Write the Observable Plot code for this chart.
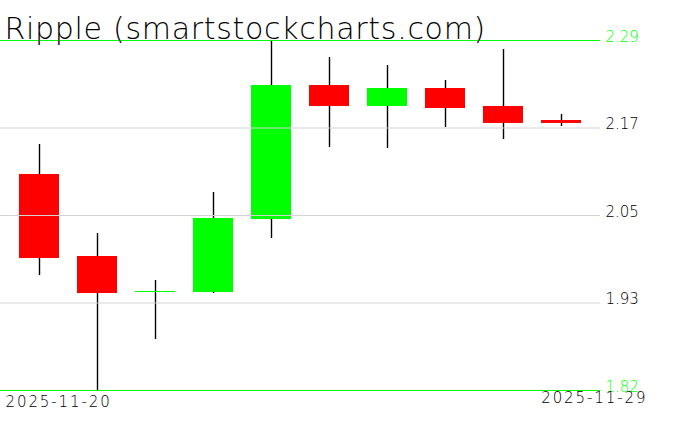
<!DOCTYPE html>
<html>
<head>
<meta charset="utf-8">
<script src="https://cdn.jsdelivr.net/npm/d3@7"></script>
<script src="https://cdn.jsdelivr.net/npm/@observablehq/plot@0.6"></script>
<style>
  html, body { margin: 0; padding: 0; background: #fff; }
  #chart svg { display: block; }
</style>
</head>
<body>
<div id="chart"></div>
<script>
const title = "Ripple (smartstockcharts.com)";
const dates = ["2025-11-20","2025-11-21","2025-11-22","2025-11-23","2025-11-24","2025-11-25","2025-11-26","2025-11-27","2025-11-28","2025-11-29"];
const open  = [2.1106, 1.9984, 1.9500, 1.9491, 2.0490, 2.2324, 2.2037, 2.2283, 2.2037, 2.1845];
const high  = [2.1517, 2.0299, 1.9656, 2.0860, 2.2940, 2.2707, 2.2598, 2.2393, 2.2817, 2.1927];
const low   = [1.9724, 1.8150, 1.8848, 1.9478, 2.0230, 2.1476, 2.1462, 2.1749, 2.1585, 2.1763];
const close = [1.9970, 1.9491, 1.9505, 2.0504, 2.2324, 2.2050, 2.2283, 2.2023, 2.1818, 2.1818];
const yTicks  = [2.294, 2.17425, 2.0545, 1.93475, 1.815];
const yLabels = ["2.29", "2.17", "2.05", "1.93", "1.82"];

const GREEN = "#00ff00", RED = "#ff0000";
const candles = dates.map((d, i) => ({date: d, open: open[i], high: high[i], low: low[i], close: close[i]}));
const ticks = yTicks.map((v, i) => ({v, label: yLabels[i], edge: i === 0 || i === yTicks.length - 1}));
const color = d => d.close >= d.open ? GREEN : RED;

const chart = Plot.plot({
  width: 676,
  height: 431,
  marginTop: 40,
  marginBottom: 41,
  marginLeft: 0,
  marginRight: 76,
  x: {type: "band", domain: dates, range: [10.5, 590.5], paddingInner: 0.31, paddingOuter: 0.155, align: 0.5, axis: null},
  y: {domain: [1.815, 2.294], axis: null},
  marks: [
    Plot.ruleX(candles, {x: "date", y1: "low", y2: "high", stroke: "black", strokeWidth: 1.4}),
    Plot.barY(candles, {x: "date", y1: "open", y2: "close", fill: color}),
    Plot.tickY(candles, {x: "date", y: "close", stroke: color, strokeWidth: 1}),
    Plot.ruleY(ticks.filter(t => !t.edge), {y: "v", stroke: "#d3d3d3", strokeWidth: 1}),
    Plot.ruleY(ticks.filter(t => t.edge), {y: "v", stroke: GREEN, strokeWidth: 1.2}),
    Plot.text(ticks, {y: "v", text: "label", frameAnchor: "right", dx: 5, dy: 1, textAnchor: "start", lineAnchor: "bottom",
      fill: t => t.edge ? GREEN : "black", fontSize: 15, fontWeight: 200, fontFamily: "DejaVu Sans"}),
    Plot.text([title], {text: d => d, frameAnchor: "top-left", dx: 4, dy: -2, textAnchor: "start", lineAnchor: "bottom",
      fill: "black", fontSize: 30, fontWeight: 200, fontFamily: "DejaVu Sans"}),
    Plot.text([dates[0]], {text: d => d, frameAnchor: "bottom-left", dx: 5, dy: 16, textAnchor: "start", lineAnchor: "bottom",
      fill: "black", fontSize: 15, fontWeight: 200, fontFamily: "DejaVu Sans"}),
    Plot.text([dates[dates.length - 1]], {text: d => d, frameAnchor: "bottom-right", dx: 46.9, dy: 12, textAnchor: "end", lineAnchor: "bottom",
      fill: "black", fontSize: 15, fontWeight: 200, fontFamily: "DejaVu Sans"})
  ]
});

d3.select(chart).selectAll("text").each(function () {
  const t = this.textContent;
  if (t === title) this.setAttribute("letter-spacing", "0.7");
  if (t === dates[0] || t === dates[dates.length - 1]) this.setAttribute("letter-spacing", "1.9");
});

document.getElementById("chart").appendChild(chart);
</script>
</body>
</html>
